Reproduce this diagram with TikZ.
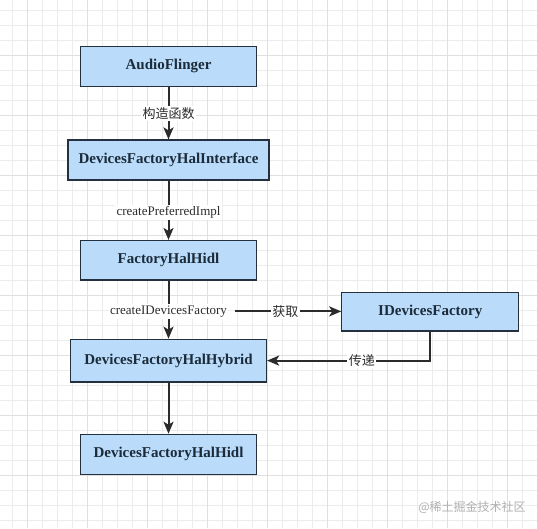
\documentclass[tikz,border=0pt]{standalone}
\usepackage{fontspec}
\setmainfont{Liberation Serif}
\newfontfamily\cjk{Noto Sans CJK SC}
\usetikzlibrary{arrows.meta}
\definecolor{boxfill}{RGB}{186,220,250}
\definecolor{boxline}{RGB}{36,48,62}
\definecolor{boxtext}{RGB}{28,43,58}
\definecolor{arrc}{RGB}{43,43,43}
\definecolor{gridminor}{RGB}{236,236,236}
\definecolor{gridmajor}{RGB}{224,224,224}
\definecolor{wmark}{RGB}{176,176,176}
\tikzset{
  cls/.style={draw=boxline, fill=boxfill, line width=1.2pt, inner sep=0pt,
    text=boxtext, font=\fontsize{15}{18}\selectfont\bfseries},
  arr/.style={draw=arrc, line width=2pt, -{Stealth[length=12pt,width=10pt,inset=3pt]}},
  lbl/.style={fill=white, inner sep=1.5pt, text=arrc, font=\fontsize{13}{15}\selectfont},
  cjklbl/.style={fill=white, inner sep=1.5pt, text=arrc, font=\fontsize{13}{15}\selectfont\cjk},
}
\begin{document}
\begin{tikzpicture}[x=1pt,y=-1pt]
\useasboundingbox (0,0) rectangle (537,528);
\fill[white] (0,0) rectangle (537,528);
% grid
\foreach \i in {0,...,35} {
  \draw[gridminor, line width=0.6pt] ({12.7+15*\i},0) -- ++(0,528);
}
\foreach \j in {0,...,34} {
  \draw[gridminor, line width=0.6pt] (0,{10+15*\j}) -- ++(537,0);
}
\foreach \i in {0,...,8} {
  \draw[gridmajor, line width=0.6pt] ({27.7+60*\i},0) -- ++(0,528);
  \draw[gridmajor, line width=0.6pt] (0,{55+60*\i}) -- ++(537,0);
}
% boxes
\node[cls, minimum width=176pt, minimum height=40pt] (af) at (168.5,66.3) {AudioFlinger};
\node[cls, minimum width=201pt, minimum height=40pt] (dfhi) at (168.5,160) {DevicesFactoryHalInterface};
\node[cls, minimum width=176pt, minimum height=39.5pt] (fhh) at (168.5,260.3) {FactoryHalHidl};
\node[cls, minimum width=177pt, minimum height=38.7pt] (idf) at (430.3,311.7) {IDevicesFactory};
\node[cls, minimum width=196pt, minimum height=42.7pt] (hyb) at (168.5,360.6) {DevicesFactoryHalHybrid};
\node[cls, minimum width=176pt, minimum height=40pt] (hidl) at (168.5,454.3) {DevicesFactoryHalHidl};
% edges
\draw[arr] (af) -- node[cjklbl] {构造函数} (dfhi);
\draw[arr] (dfhi) -- node[lbl, pos=0.53] {createPreferredImpl} (fhh);
\draw[arr] (fhh) -- node[lbl, pos=0.53] (cidf) {createIDevicesFactory} (hyb);
\coordinate (gin) at (cidf.east -| idf.west);
\draw[arr, shorten <=6pt] (cidf.east) -- node[cjklbl] {获取} (gin);
\coordinate (bend) at (idf.south |- hyb.east);
\draw[arr] (idf.south) -- (bend) -- node[cjklbl, pos=0.42] {传递} (hyb.east);
\draw[arr] (hyb) -- (hidl);
% watermark
\node[text=wmark, font=\fontsize{12}{14}\selectfont\cjk, inner sep=0pt] (wm) at (472,507) {@稀土掘金技术社区};
\end{tikzpicture}
\end{document}
